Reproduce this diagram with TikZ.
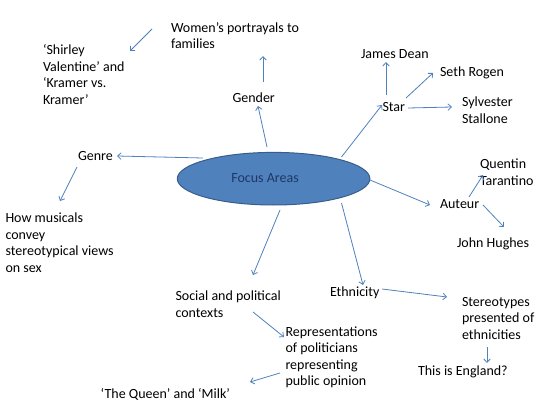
\documentclass[tikz,border=0pt]{standalone}
\usepackage{fontspec}
\setmainfont{Carlito}
\usetikzlibrary{arrows.meta,shapes.geometric}
\definecolor{arrowblue}{HTML}{4F81BD}
\definecolor{ellfill}{HTML}{4F81BD}
\definecolor{elldraw}{HTML}{385D8A}
\definecolor{navy}{HTML}{1F3864}
\begin{document}
\begin{tikzpicture}[x=1pt,y=-1pt,
  lbl/.style={anchor=north west,inner sep=0pt,outer sep=0pt,yshift=7pt,align=left,
    font=\fontsize{14}{16.5}\selectfont,text=black},
  conn/.style={draw=arrowblue,line width=0.8pt,-{Straight Barb[length=3.5pt,width=6.5pt]}}]
\useasboundingbox[fill=white] (0,0) rectangle (560,420);
% central ellipse
\node[ellipse,draw=elldraw,line width=1pt,fill=ellfill,minimum width=192.6pt,minimum height=52.6pt,inner sep=0pt] (focus) at (273.6,178.7) {};
\node[text=navy,font=\fontsize{14}{16.5}\selectfont,inner sep=0pt] (focustxt) at (265,177.7) {Focus Areas};
% labels
\node[lbl] (women) at (171,27.5) {\strut Women’s portrayals to\\families};
\node[lbl] (shirley) at (43,50) {\strut ‘Shirley\\Valentine’ and\\‘Kramer vs.\\Kramer’};
\node[lbl] (gender) at (232.5,98.3) {\strut Gender};
\node[lbl] (james) at (361,54) {\strut James Dean};
\node[lbl] (seth) at (440,71.7) {\strut Seth Rogen};
\node[lbl] (star) at (382.5,107) {\strut Star};
\node[lbl] (sylv) at (462,102.3) {\strut Sylvester\\Stallone};
\node[lbl] (genre) at (78,155.7) {\strut Genre};
\node[lbl] (musicals) at (5.5,218.3) {\strut How musicals\\convey\\stereotypical views\\on sex};
\node[lbl] (quentin) at (480,164) {\strut Quentin\\Tarantino};
\node[lbl] (auteur) at (440,204) {\strut Auteur};
\node[lbl] (john) at (457,243.3) {\strut John Hughes};
\node[lbl] (ethnicity) at (330,292.3) {\strut Ethnicity};
\node[lbl] (social) at (175.5,296) {\strut Social and political\\contexts};
\node[lbl] (stereo) at (462,301.7) {\strut Stereotypes\\presented of\\ethnicities};
\node[lbl] (repr) at (285.5,331.7) {\strut Representations\\of politicians\\representing\\public opinion};
\node[lbl] (england) at (418,370.7) {\strut This is England?};
\node[lbl] (queen) at (100.5,394) {\strut ‘The Queen’ and ‘Milk’};
% connector end points
\coordinate (g1) at (267,147);   \coordinate (g2) at (258,106);
\coordinate (w1) at (263,82);    \coordinate (w2) at (263,56);
\coordinate (s1) at (152,29);    \coordinate (s2) at (130,51);
\coordinate (st1) at (341.5,157);\coordinate (st2) at (382,105);
\coordinate (j1) at (386,95);    \coordinate (j2) at (386,62);
\coordinate (r1) at (406,98);    \coordinate (r2) at (433,73);
\coordinate (y1) at (408,108);   \coordinate (y2) at (452,107);
\coordinate (ge1) at (203,158);  \coordinate (ge2) at (117,156);
\coordinate (m1) at (77,167);    \coordinate (m2) at (60,201);
\coordinate (so1) at (280,210);  \coordinate (so2) at (253,275);
\coordinate (a1) at (370,180);   \coordinate (a2) at (430,205);
\coordinate (q1) at (469,197);   \coordinate (q2) at (483,175);
\coordinate (h1) at (483,205);   \coordinate (h2) at (504,227);
\coordinate (e1) at (341.5,203); \coordinate (e2) at (363,285);
\coordinate (t1) at (382,289);   \coordinate (t2) at (447,297);
\coordinate (n1) at (487,347);   \coordinate (n2) at (487,363);
\coordinate (p1) at (253,312);   \coordinate (p2) at (284,337);
\coordinate (k1) at (280,373);   \coordinate (k2) at (250,382);
% connectors
\draw[conn] (g1) -- (g2);
\draw[conn] (w1) -- (w2);
\draw[conn] (s1) -- (s2);
\draw[conn] (st1) -- (st2);
\draw[conn] (j1) -- (j2);
\draw[conn] (r1) -- (r2);
\draw[conn] (y1) -- (y2);
\draw[conn] (ge1) -- (ge2);
\draw[conn] (m1) -- (m2);
\draw[conn] (so1) -- (so2);
\draw[conn] (a1) -- (a2);
\draw[conn] (q1) -- (q2);
\draw[conn] (h1) -- (h2);
\draw[conn] (e1) -- (e2);
\draw[conn] (t1) -- (t2);
\draw[conn] (n1) -- (n2);
\draw[conn] (p1) -- (p2);
\draw[conn] (k1) -- (k2);
\end{tikzpicture}
\end{document}
